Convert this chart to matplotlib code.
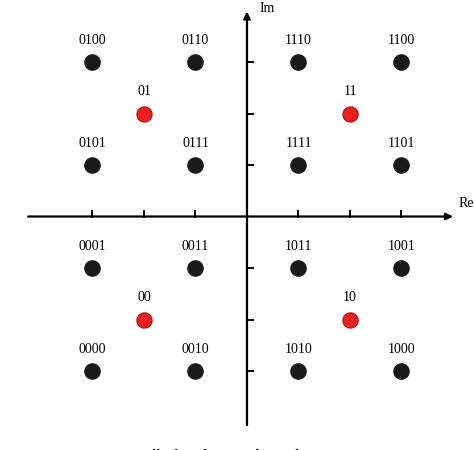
import matplotlib.pyplot as plt

# constellation points (in units of the tick spacing)
black_x = [-3, -1, 1, 3, -3, -1, 1, 3, -3, -1, 1, 3, -3, -1, 1, 3]
black_y = [3, 3, 3, 3, 1, 1, 1, 1, -1, -1, -1, -1, -3, -3, -3, -3]
black_labels = ['0100', '0110', '1110', '1100',
                '0101', '0111', '1111', '1101',
                '0001', '0011', '1011', '1001',
                '0000', '0010', '1010', '1000']
red_x = [-2, 2, -2, 2]
red_y = [2, 2, -2, -2]
red_labels = ['01', '11', '00', '10']
ticks = [-3, -2, -1, 1, 2, 3]

fig = plt.figure(figsize=(4.74, 4.5), dpi=100)
ax = fig.add_axes([0, 0, 1, 1])
ax.set_xlim(-4.796, 4.408)
ax.set_ylim(-4.534, 4.204)
ax.axis('off')

serif = 'Liberation Serif'

# axes with arrows
ax.annotate('', xy=(4.0, 0), xytext=(-4.25, 0),
            arrowprops=dict(arrowstyle='-|>', lw=1.6, color='black',
                            mutation_scale=10, shrinkA=0, shrinkB=0))
ax.annotate('', xy=(0, 3.98), xytext=(0, -4.05),
            arrowprops=dict(arrowstyle='-|>', lw=1.6, color='black',
                            mutation_scale=10, shrinkA=0, shrinkB=0))
for t in ticks:
    ax.plot([t, t], [0, 0.1], color='black', lw=1.4)
    ax.plot([0, 0.12], [t, t], color='black', lw=1.4)

ax.text(4.1, 0.12, 'Re', fontsize=10, family=serif, ha='left', va='bottom')
ax.text(0.25, 4.16, 'Im', fontsize=10, family=serif, ha='left', va='top')

ax.scatter(black_x, black_y, s=120, color='#1a1a1a', zorder=3)
ax.scatter(red_x, red_y, s=120, color='#e8211f', edgecolor='#b01010',
           linewidth=0.8, zorder=3)

for x, y, lab in zip(black_x, black_y, black_labels):
    ax.text(x, y + 0.3, lab, fontsize=10, family=serif, ha='center', va='bottom')
for x, y, lab in zip(red_x, red_y, red_labels):
    ax.text(x, y + 0.3, lab, fontsize=10, family=serif, ha='center', va='bottom')

# caption, mostly cut off at the bottom edge
fig.text(-0.03, 0.003, 'FIGURE 5:', fontsize=11, fontweight='bold',
         color='#1f77b4', family='Liberation Sans', va='top', ha='left')
fig.text(0.115, 0.003, 'Super constellation for UM-based 16-QAM', fontsize=11,
         fontweight='bold', family='Liberation Sans', va='top', ha='left')

fig.savefig('out.png', dpi=100)
